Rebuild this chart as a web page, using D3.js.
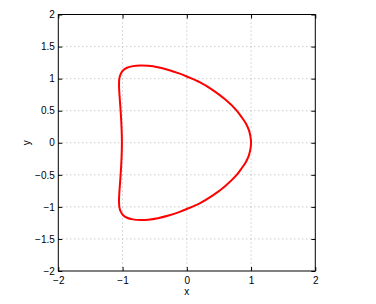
<!DOCTYPE html>
<html><head><meta charset="utf-8">
<script src="https://cdn.jsdelivr.net/npm/d3@7"></script>
<style>
html,body{margin:0;padding:0;background:#fff;}
svg{display:block;font-family:"Liberation Sans",Arial,Helvetica,sans-serif;}
</style></head>
<body>
<svg id="c" width="376" height="304"></svg>
<script>
// Closed curve points (counter-clockwise from (1,0))
const curveX = [1.0, 0.99, 0.965, 0.92, 0.86, 0.77, 0.60, 0.40, 0.20, 0.0, -0.12, -0.27, -0.45, -0.60, -0.72, -0.84, -0.93, -0.99, -1.03, -1.05, -1.055, -1.05, -1.04, -1.03, -1.02, -1.013, -1.01,
                -1.013, -1.02, -1.03, -1.04, -1.05, -1.055, -1.05, -1.03, -0.99, -0.93, -0.84, -0.72, -0.60, -0.45, -0.27, -0.12, 0.0, 0.20, 0.40, 0.60, 0.77, 0.86, 0.92, 0.965, 0.99];
const curveY = [0.0, 0.10, 0.20, 0.30, 0.39, 0.51, 0.673, 0.825, 0.945, 1.033, 1.081, 1.131, 1.176, 1.199, 1.205, 1.195, 1.17, 1.13, 1.07, 1.0, 0.90, 0.78, 0.64, 0.50, 0.33, 0.16, 0.0,
                -0.16, -0.33, -0.50, -0.64, -0.78, -0.90, -1.0, -1.07, -1.13, -1.17, -1.195, -1.205, -1.199, -1.176, -1.131, -1.081, -1.033, -0.945, -0.825, -0.673, -0.51, -0.39, -0.30, -0.20, -0.10];
const xTicks = [-2, -1, 0, 1, 2];
const yTicks = [-2, -1.5, -1, -0.5, 0, 0.5, 1, 1.5, 2];
const xLabel = "x", yLabel = "y";

const svg = d3.select("#c");
const L = 58.3, R = 315.3, T = 14.5, B = 271;
const x = d3.scaleLinear().domain([-2, 2]).range([L, R]);
const y = d3.scaleLinear().domain([-2, 2]).range([B, T]);
const fmt = v => String(v).replace("-", "\u2212");

// grid
const g = svg.append("g");
g.selectAll(".gx").data(xTicks.slice(1, -1)).join("line")
  .attr("x1", d => x(d)).attr("x2", d => x(d)).attr("y1", T).attr("y2", B)
  .attr("stroke", "#b4b4b4").attr("stroke-width", 1).attr("stroke-dasharray", "1,3");
g.selectAll(".gy").data(yTicks.slice(1, -1)).join("line")
  .attr("y1", d => y(d)).attr("y2", d => y(d)).attr("x1", L).attr("x2", R)
  .attr("stroke", "#b4b4b4").attr("stroke-width", 1).attr("stroke-dasharray", "1,3");

// curve
const pts = curveX.map((v, i) => [v, curveY[i]]);
svg.append("path").datum(pts)
  .attr("d", d3.line().x(d => x(d[0])).y(d => y(d[1])).curve(d3.curveCatmullRomClosed.alpha(0.5)))
  .attr("fill", "none").attr("stroke", "#ff0000").attr("stroke-width", 2);

// axes with inward ticks on all sides
const tl = 4;
const ax = svg.append("g").attr("font-size", 10).attr("fill", "#000");
ax.append("g").attr("transform", `translate(0,${B})`)
  .call(d3.axisBottom(x).tickValues(xTicks).tickSizeInner(-tl).tickSizeOuter(0).tickPadding(5.5).tickFormat(fmt))
  .call(s => s.select(".domain").remove());
ax.append("g").attr("transform", `translate(0,${T})`)
  .call(d3.axisTop(x).tickValues(xTicks).tickSizeInner(-tl).tickSizeOuter(0).tickFormat(""))
  .call(s => s.select(".domain").remove());
ax.append("g").attr("transform", `translate(${L},0)`)
  .call(d3.axisLeft(y).tickValues(yTicks).tickSizeInner(-tl).tickSizeOuter(0).tickPadding(3.5).tickFormat(fmt))
  .call(s => s.select(".domain").remove());
ax.append("g").attr("transform", `translate(${R},0)`)
  .call(d3.axisRight(y).tickValues(yTicks).tickSizeInner(-tl).tickSizeOuter(0).tickFormat(""))
  .call(s => s.select(".domain").remove());
svg.selectAll(".tick text").attr("font-size", 10).attr("font-family", "'Liberation Sans',Arial,sans-serif").attr("fill", "#000");
svg.selectAll(".tick line").attr("stroke", "#000");

svg.append("rect").attr("x", L).attr("y", T).attr("width", R - L).attr("height", B - T)
  .attr("fill", "none").attr("stroke", "#000").attr("stroke-width", 1);

svg.append("text").attr("x", (L + R) / 2).attr("y", 294.5).attr("text-anchor", "middle")
  .attr("font-size", 10).text(xLabel);
svg.append("text").attr("transform", `translate(30,${(T + B) / 2}) rotate(-90)`).attr("text-anchor", "middle")
  .attr("font-size", 10).text(yLabel);
</script>
</body></html>
